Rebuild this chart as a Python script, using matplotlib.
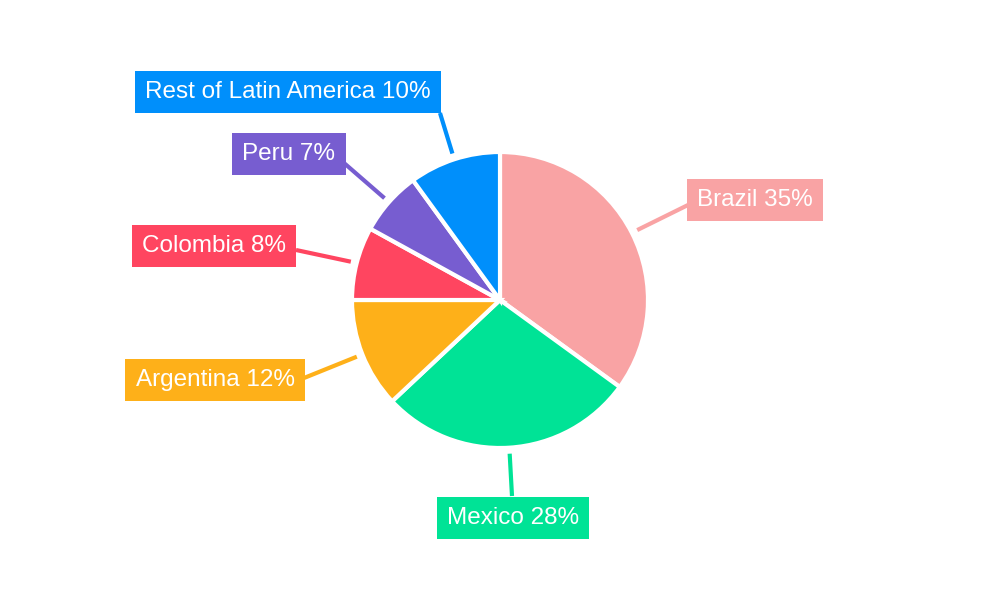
import numpy as np
import matplotlib.pyplot as plt

plt.rcParams['font.family'] = ['Liberation Sans', 'DejaVu Sans']

countries = ["Brazil", "Mexico", "Argentina", "Colombia", "Peru", "Rest of Latin America"]
shares = [35, 28, 12, 8, 7, 10]
colors = ["#F9A3A4", "#00E396", "#FEB019", "#FF4560", "#775DD0", "#008FFB"]

# label box centres and leader end points (pixels, y down)
label_pos = [(755, 200), (513, 518), (215, 380), (214, 246), (289, 154), (288, 92)]
line_end = [(688, 205), (512, 496), (304, 378), (296, 250), (344, 163), (440, 113)]

W, H = 1000, 600
cx, cy, r = 500, 300, 148

fig = plt.figure(figsize=(10, 6), dpi=100)
ax = fig.add_axes([0, 0, 1, 1])
ax.set_xlim(0, W)
ax.set_ylim(0, H)
ax.set_aspect('equal')
ax.axis('off')

wedges, _ = ax.pie(shares, colors=colors, center=(cx, H - cy), radius=r,
                   startangle=90, counterclock=False,
                   wedgeprops=dict(edgecolor='white', linewidth=3))

ax.set_xlim(0, W)
ax.set_ylim(0, H)

total = sum(shares)
start = 0
for i, (name, v) in enumerate(zip(countries, shares)):
    mid = start + v / 2
    start += v
    ang = np.deg2rad(90 - 360 * mid / total)
    sx = cx + (r + 6) * np.cos(ang)
    sy = (H - cy) + (r + 6) * np.sin(ang)
    ex, ey = line_end[i]
    ax.plot([sx, ex], [sy, H - ey], color=colors[i], lw=3, solid_capstyle='butt', zorder=1)
    tx, ty = label_pos[i]
    ax.text(tx, H - ty, f"{name} {v}%", color='white', fontsize=17.5,
            ha='center', va='center', zorder=3,
            bbox=dict(boxstyle='square,pad=0.42', facecolor=colors[i], edgecolor='none'))

fig.savefig("out.png", dpi=100, facecolor='white')
